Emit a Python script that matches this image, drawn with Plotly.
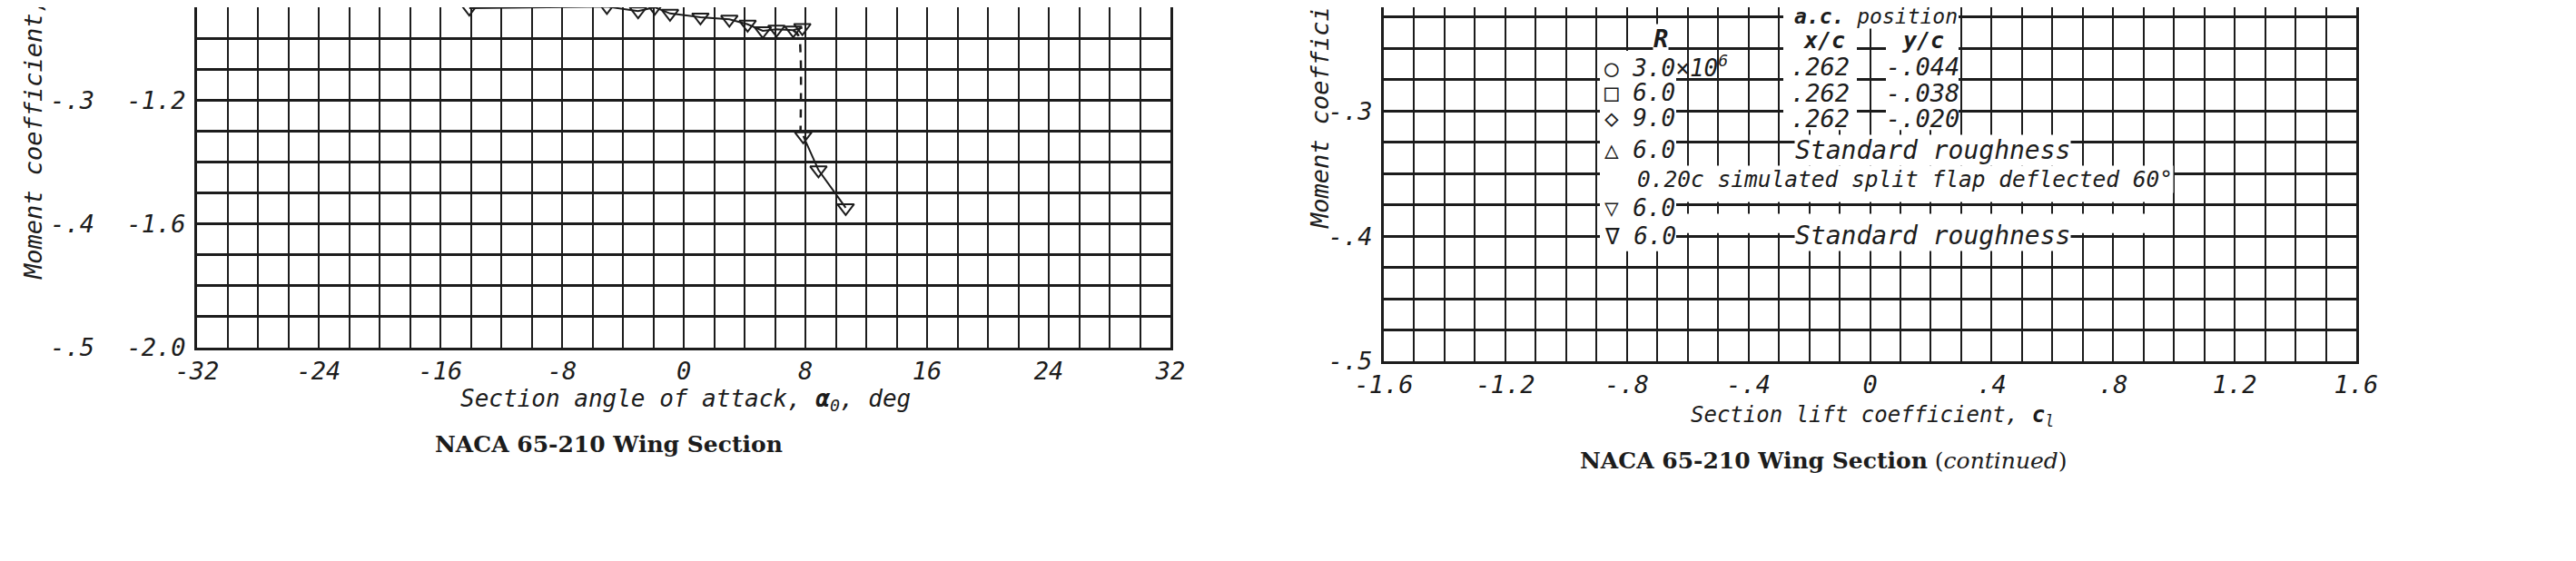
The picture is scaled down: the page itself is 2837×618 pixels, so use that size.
import plotly.graph_objects as go

# split flap data, left chart (moment coefficient about c/4)
ALPHA_FLAP = [-14.1, -5.05, -3.0, -1.9, -0.9, 1.1, 3.0, 4.2, 5.2, 6.1, 7.2, 7.8]
CM_FLAP = [-0.2258, -0.2245, -0.2281, -0.2250, -0.2300, -0.2330, -0.2348,
           -0.2388, -0.2440, -0.2428, -0.2435, -0.2415]
ALPHA_BREAK = [7.2, 7.55, 7.68, 7.68]
CM_BREAK = [-0.2435, -0.2480, -0.2620, -0.3240]
ALPHA_STALL = [7.86, 8.86, 10.65]
CM_STALL = [-0.3290, -0.3565, -0.3870]

# tick labels
ALPHA_TICKS = [-32, -24, -16, -8, 0, 8, 16, 24, 32]
ALPHA_LABELS = ["-32", "-24", "-16", "-8", "0", "8", "16", "24", "32"]
CL_TICKS = [-2.0, -1.6, -1.2]
CL_LABELS = ["-2.0", "-1.6", "-1.2"]
CM_TICKS = [-0.5, -0.4, -0.3]
CM_LABELS = ["-.5", "-.4", "-.3"]
CL_X_TICKS = [-1.6, -1.2, -0.8, -0.4, 0, 0.4, 0.8, 1.2, 1.6]
CL_X_LABELS = ["-1.6", "-1.2", "-.8", "-.4", "0", ".4", ".8", "1.2", "1.6"]

# legend table of the right chart
LEG_SYMBOLS = ["○", "□", "◇", "△"]
LEG_R = ["3.0×10<sup>6</sup>", "6.0", "9.0", "6.0"]
LEG_XC = [".262", ".262", ".262"]
LEG_YC = ["-.044", "-.038", "-.020"]
FLAP_SYMBOLS = ["▽", "∇"]
FLAP_R = ["6.0", "6.0"]

INK = "#1c1c1c"
HAND = "DejaVu Sans Mono"
W, H = 2837, 618
OFF = 8  # page body margin


def px_x(px):
    return (px - OFF) / W


def px_y(py):
    return 1 - (py - OFF) / H


def rx(px):
    # right chart: pixel -> lift coefficient
    return -1.6 + (px - 1524) * 3.2 / 1071


def ry(py):
    # right chart: pixel -> moment coefficient
    return -0.3 - (py - 122) / 1375


def hand(size):
    return dict(family=HAND, size=size, color=INK, style="italic")


def grid_axis(**kw):
    base = dict(
        showgrid=True, gridcolor=INK, zeroline=False, ticks="", automargin=False,
        showline=True, linecolor=INK, linewidth=3,
        tickfont=hand(27), tickmode="array",
    )
    base.update(kw)
    return base


fig = go.Figure()
# empty trace so the lift axis keeps its own subplot
fig.add_trace(go.Scatter(x=[], y=[], xaxis="x", yaxis="y", showlegend=False))
fig.add_trace(go.Scatter(
    x=ALPHA_FLAP, y=CM_FLAP, xaxis="x", yaxis="y2", mode="lines+markers",
    line=dict(color=INK, width=2),
    marker=dict(symbol="triangle-down-open", size=16, color=INK, line=dict(width=2)),
    showlegend=False,
))
fig.add_trace(go.Scatter(
    x=ALPHA_BREAK, y=CM_BREAK, xaxis="x", yaxis="y2", mode="lines",
    line=dict(color=INK, width=2.5, dash="dash", shape="spline"), showlegend=False,
))
fig.add_trace(go.Scatter(
    x=ALPHA_STALL, y=CM_STALL, xaxis="x", yaxis="y2", mode="lines+markers",
    line=dict(color=INK, width=2),
    marker=dict(symbol="triangle-down-open", size=16, color=INK, line=dict(width=2)),
    showlegend=False,
))

cl_top = -0.90
fig.update_layout(
    width=W, height=H,
    margin=dict(l=0, r=0, t=0, b=0, pad=0, autoexpand=False),
    paper_bgcolor="white", plot_bgcolor="white",
    font=dict(family=HAND, color=INK),
    xaxis=grid_axis(
        domain=[px_x(217), px_x(1289)], range=[-32, 32], anchor="y",
        tickvals=ALPHA_TICKS, ticktext=ALPHA_LABELS, gridwidth=2,
        minor=dict(dtick=2, tick0=0, showgrid=True, gridcolor=INK, gridwidth=2),
        ticklabelstandoff=0,
    ),
    yaxis=grid_axis(
        domain=[px_y(383), 1], range=[-2.0, cl_top], anchor="x", mirror=True,
        tickvals=CL_TICKS, ticktext=CL_LABELS, gridwidth=3,
        minor=dict(dtick=0.1, tick0=0, showgrid=True, gridcolor=INK, gridwidth=3),
        ticklabelstandoff=4,
    ),
    yaxis2=dict(
        overlaying="y", anchor="free", position=px_x(104), side="left",
        range=[-0.5, cl_top / 4], showgrid=False, zeroline=False, showline=False,
        automargin=False, ticks="", tickmode="array",
        tickvals=CM_TICKS, ticktext=CM_LABELS, tickfont=hand(27),
    ),
    xaxis2=grid_axis(
        domain=[px_x(1524), px_x(2595)], range=[-1.6, 1.6], anchor="y3",
        tickvals=CL_X_TICKS, ticktext=CL_X_LABELS, gridwidth=2,
        minor=dict(dtick=0.1, tick0=0, showgrid=True, gridcolor=INK, gridwidth=2),
        ticklabelstandoff=0,
    ),
    yaxis3=grid_axis(
        domain=[px_y(398), 1], range=[-0.5, ry(OFF)], anchor="x2", mirror=True,
        tickvals=CM_TICKS, ticktext=CM_LABELS, gridwidth=3,
        minor=dict(dtick=0.025, tick0=0, showgrid=True, gridcolor=INK, gridwidth=3),
        ticklabelstandoff=4,
    ),
)

# white patches where the legend table interrupts the grid
masks = [
    (rx(1762), rx(1846), ry(56), ry(276)),
    (rx(1964), rx(2045), ry(OFF), ry(143)),
    (rx(2077), rx(2157), ry(OFF), ry(143)),
    (rx(1848), rx(2392), ry(193), ry(222)),
    (rx(1848), rx(2392), ry(235), ry(256)),
]
for x0, x1, y0, y1 in masks:
    fig.add_shape(type="rect", xref="x2", yref="y3", x0=x0, x1=x1, y0=y0, y1=y1,
                  fillcolor="white", line=dict(width=0), layer="above")


def note(text, x, y, size=27, xanchor="center", bg=True):
    fig.add_annotation(
        text=text, x=x, y=y, xref="x2", yref="y3", xanchor=xanchor, yanchor="middle",
        showarrow=False, bgcolor="white" if bg else None, borderpad=0,
        font=hand(size),
    )


note("<b>a.c.</b> position", rx(2066), ry(18), size=23)
note("<b>R</b>", rx(1829), ry(42))
note("<b>x/c</b>", rx(2009), ry(44), size=25, bg=False)
note("<b>y/c</b>", rx(2117), ry(44), size=25, bg=False)

row_py = [73, 102, 130, 165]
for i, (xc, yc) in enumerate(zip(LEG_XC, LEG_YC)):
    note(xc, rx(2004), ry(row_py[i]), bg=False)
    note(yc, rx(2117), ry(row_py[i]), bg=False)
note("0.20c simulated split flap deflected 60°", rx(1802), ry(197), size=24.5,
     xanchor="left")
for i, (sym, r) in enumerate(zip(LEG_SYMBOLS, LEG_R)):
    note(f"{sym} {r}", rx(1766), ry(row_py[i]), size=26, xanchor="left", bg=False)
note("Standard roughness", rx(1976), ry(165), size=28, xanchor="left")
flap_py = [228, 259]
for i, (sym, r) in enumerate(zip(FLAP_SYMBOLS, FLAP_R)):
    note(f"{sym} {r}", rx(1766), ry(flap_py[i]), size=26, xanchor="left", bg=False)
note("Standard roughness", rx(1976), ry(259), size=28, xanchor="left")


def label(text, cx, cy, font, **kw):
    fig.add_annotation(
        text=text, x=px_x(cx), y=px_y(cy), xref="paper", yref="paper",
        xanchor=kw.pop("xanchor", "center"), yanchor=kw.pop("yanchor", "middle"),
        showarrow=False, font=font, **kw,
    )


# axis titles and captions
label("Moment coefficient, c<sub>m</sub>", 38, 310, hand(27), yanchor="bottom", textangle=-90)
label("Moment coefficient, c<sub>m</sub>", 1455, 254, hand(27), yanchor="bottom", textangle=-90)
label("Section angle of attack, <b>α</b><sub>0</sub>, deg", 755, 441, hand(26))
label("Section lift coefficient, <b>c</b><sub>l</sub>", 2062, 458, hand(24))
serif = dict(family="DejaVu Serif", size=25, color=INK)
label("<b>NACA 65-210 Wing Section</b>", 670, 490, serif)
label("<b>NACA 65-210 Wing Section</b> (<i>continued</i>)", 2008, 507, serif)

fig.write_html("out.html")
